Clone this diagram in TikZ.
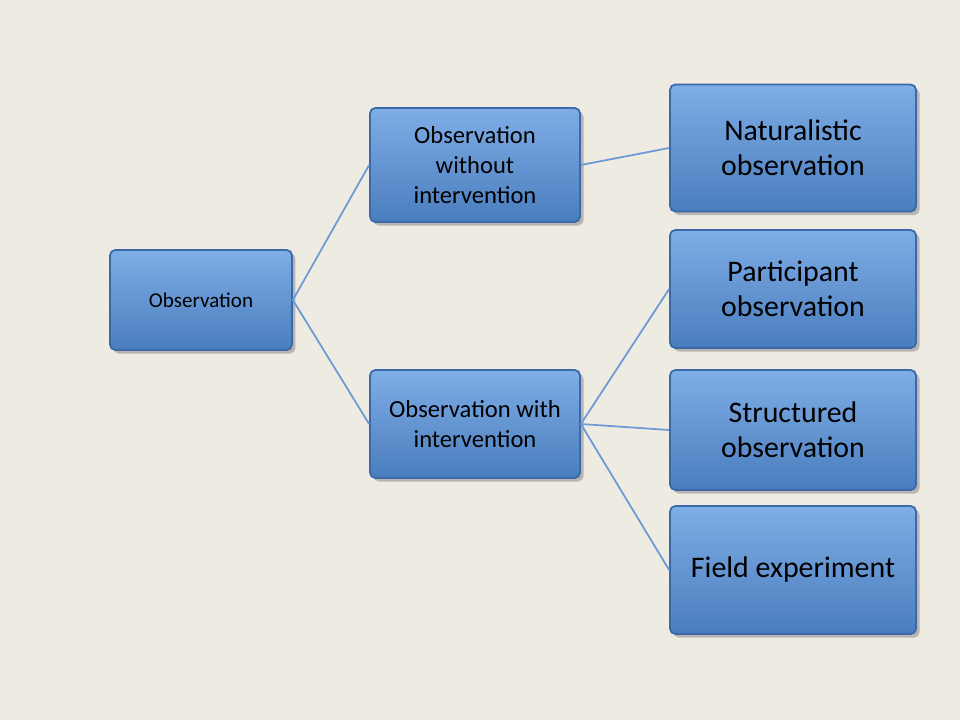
\documentclass[tikz,border=0pt]{standalone}
\usepackage{fontspec}
\setmainfont{Carlito}
\usetikzlibrary{shadows}
\definecolor{bg}{HTML}{EEEBE2}
\definecolor{boxtop}{HTML}{7FAEE6}
\definecolor{boxbot}{HTML}{4A7DBE}
\definecolor{edge}{HTML}{3A68A8}
\definecolor{link}{HTML}{6D9AD6}
\tikzset{
  bx/.style={draw=edge, line width=1pt, rounded corners=3pt, top color=boxtop, bottom color=boxbot,
    align=center, text=black, inner sep=2pt,
    drop shadow={shadow xshift=2pt, shadow yshift=-2pt, opacity=0.5}},
  lk/.style={draw=link, line width=1pt}
}
\begin{document}
\begin{tikzpicture}[x=0.02cm,y=-0.02cm]
\fill[bg] (0,0) rectangle (960,720);
\useasboundingbox (0,0) rectangle (960,720);
\node[bx, minimum width=3.64cm, minimum height=2cm, font=\fontsize{12}{14}\selectfont] (obs) at (201,300) {Observation};
\node[bx, minimum width=4.2cm, minimum height=2.28cm, font=\fontsize{14}{17}\selectfont] (wo) at (475,165) {Observation\\without\\intervention};
\node[bx, minimum width=4.2cm, minimum height=2.16cm, font=\fontsize{14}{17}\selectfont] (wi) at (475,424) {Observation with\\intervention};
\node[bx, minimum width=4.92cm, minimum height=2.54cm, font=\fontsize{17}{20}\selectfont] (nat) at (793,148) {Naturalistic\\observation};
\node[bx, minimum width=4.92cm, minimum height=2.36cm, font=\fontsize{17}{20}\selectfont] (par) at (793,289) {Participant\\observation};
\node[bx, minimum width=4.92cm, minimum height=2.4cm, font=\fontsize{17}{20}\selectfont] (str) at (793,430) {Structured\\observation};
\node[bx, minimum width=4.92cm, minimum height=2.56cm, font=\fontsize{17}{20}\selectfont] (fld) at (793,570) {Field experiment};
\draw[lk] (obs.east) -- (wo.west);
\draw[lk] (obs.east) -- (wi.west);
\draw[lk] (wo.east) -- (nat.west);
\draw[lk] (wi.east) -- (par.west);
\draw[lk] (wi.east) -- (str.west);
\draw[lk] (wi.east) -- (fld.west);
\end{tikzpicture}
\end{document}
